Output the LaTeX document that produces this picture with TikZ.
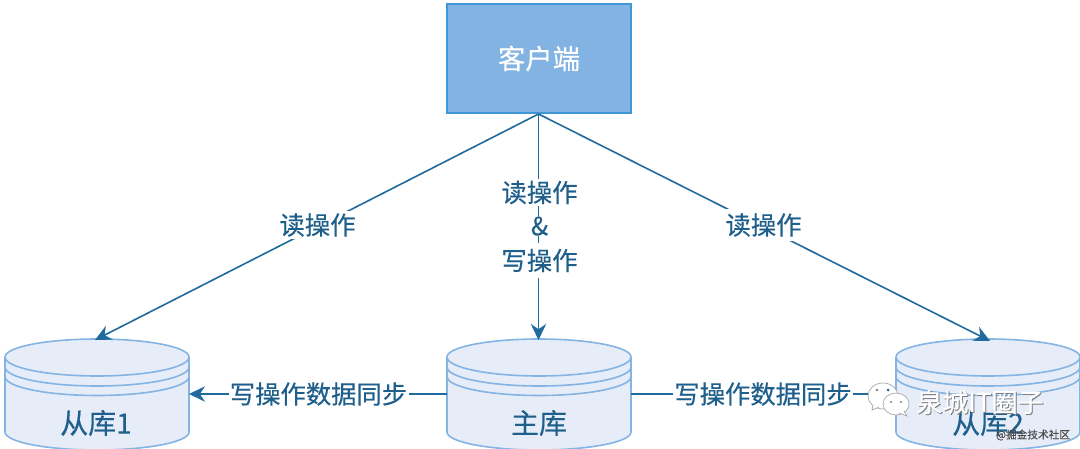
\documentclass[tikz,border=0pt]{standalone}
\usepackage{fontspec}
\setmainfont[FakeBold=0.35]{Noto Sans CJK SC}
\usetikzlibrary{arrows.meta}
\definecolor{linkc}{HTML}{1F6B9E}
\definecolor{txtc}{HTML}{1F5F8B}
\definecolor{dbfill}{HTML}{E6EDF8}
\definecolor{dbline}{HTML}{83B4E4}
\definecolor{boxfill}{HTML}{83B3E3}
\definecolor{boxline}{HTML}{3F97D8}
\tikzset{
  x=0.75pt,y=-0.75pt,
  clientbox/.style={draw=boxline,fill=boxfill,line width=1.5pt,minimum width=137.5pt,minimum height=82pt,inner sep=0pt,text=white,font=\fontsize{20.5}{24}\selectfont},
  linelabel/.style={fill=white,text=txtc,inner sep=3pt,font=\fontsize{19}{22}\selectfont},
  dbtext/.style={text=txtc,inner sep=0pt,font=\fontsize{21}{24}\selectfont},
  conn/.style={draw=linkc,line width=1.2pt},
  arrowed/.style={conn,-{Stealth[length=12pt,width=11.5pt]}},
  dbpart/.style={draw=dbline,line width=1.2pt},
}
\newcommand{\dbdraw}[1]{%
  \fill[dbfill] (#1-92,357) arc[start angle=180,end angle=360,x radius=92,y radius=18] -- (#1+92,432) arc[start angle=0,end angle=180,x radius=92,y radius=18] -- cycle;
  \draw[dbpart] (#1-92,357) arc[start angle=180,end angle=360,x radius=92,y radius=18] -- (#1+92,432) arc[start angle=0,end angle=180,x radius=92,y radius=18] -- cycle;
  \draw[dbpart] (#1-92,357) arc[start angle=180,end angle=0,x radius=92,y radius=19];
  \draw[dbpart] (#1-92,367) arc[start angle=180,end angle=0,x radius=92,y radius=19];
  \draw[dbpart] (#1-92,376.5) arc[start angle=180,end angle=0,x radius=92,y radius=19];
}
\begin{document}
\begin{tikzpicture}
\useasboundingbox (0,0) rectangle (1080,449);
\clip (0,0) rectangle (1080,449);
\fill[white] (0,0) rectangle (1080,449);
\dbdraw{97}
\dbdraw{539}
\dbdraw{988}
\node[clientbox] (client) at (539,58.5) {客户端};
\coordinate (cb) at (538.5,114);
\coordinate (s1top) at (95,340);
\coordinate (mtop) at (538.5,340);
\coordinate (s2top) at (990,341);
\coordinate (s1r) at (189,394);
\coordinate (ml) at (447,394);
\coordinate (mr) at (631,394);
\coordinate (s2l) at (896,394);
\node[dbtext] (s1) at (96,423) {从库1};
\node[dbtext] (m) at (539,423) {主库};
\node[dbtext] (s2) at (988,423) {从库2};
\draw[arrowed] (cb) -- (s1top);
\draw[arrowed] (cb) -- (mtop);
\draw[arrowed] (cb) -- (s2top);
\draw[arrowed] (ml) -- (s1r);
\draw[conn] (mr) -- (s2l);
\node[linelabel,inner ysep=1.5pt] (l1) at (317.5,225) {读操作};
\node[linelabel] (l3) at (763.5,225) {读操作};
\node[linelabel,inner ysep=1.5pt] (l2a) at (539.5,192.5) {读操作};
\node[linelabel,inner ysep=0.5pt] (l2b) at (539.5,226) {\&};
\node[linelabel,inner ysep=4.5pt] (l2c) at (539.5,260.5) {写操作};
\node[linelabel,inner xsep=1pt,inner ysep=0pt] (w1) at (318.5,394) {写操作数据同步};
\node[linelabel,inner xsep=1pt,inner ysep=0pt] (w2) at (763,394) {写操作数据同步};
% watermark
\begin{scope}[draw=gray!70,line width=0.5pt]
\fill[white] (883,396) ellipse[x radius=15,y radius=13];
\draw (883,396) ellipse[x radius=15,y radius=13];
\draw[fill=white] (873,405) -- (872,410) -- (879,407);
\fill[white] (896,404) ellipse[x radius=13,y radius=11];
\draw (896,404) ellipse[x radius=13,y radius=11];
\draw[fill=white] (904,411) -- (907,416) -- (899,413);
\fill[gray] (877,390) circle[radius=1.3];
\fill[linkc] (888,390) circle[radius=1.5];
\fill[gray] (891,402) circle[radius=1.2];
\fill[gray] (901,402) circle[radius=1.2];
\end{scope}
\node[text=gray,inner sep=0pt,font=\fontsize{19.5}{22}\selectfont] (wm0) at (981,403) {泉城IT圈子};
\node[text=white,inner sep=0pt,font=\fontsize{19.5}{22}\selectfont] (wm) at (980,402) {泉城IT圈子};
\node[text=gray!60!black,inner sep=0pt,font=\fontsize{8}{10}\selectfont] (wm2) at (1033,435) {@掘金技术社区};
\end{tikzpicture}
\end{document}
